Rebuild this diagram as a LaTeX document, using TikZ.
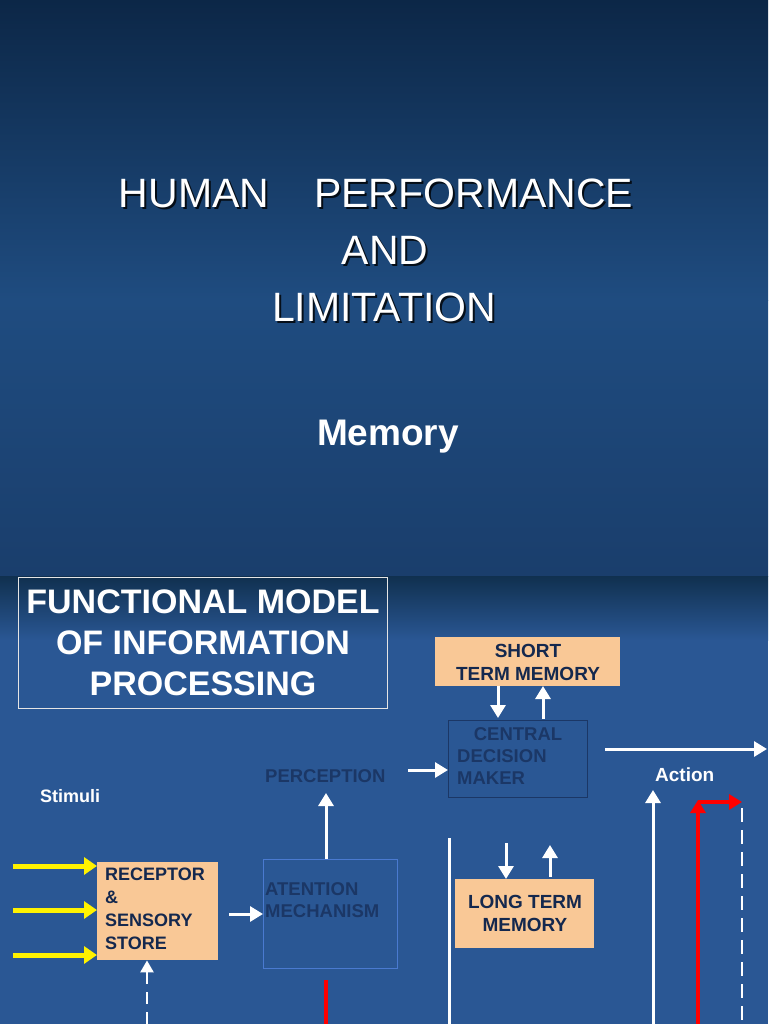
\documentclass[tikz,border=0pt]{standalone}
\usepackage{fontspec}
\setmainfont{Liberation Sans}
\usetikzlibrary{arrows.meta}
\definecolor{peach}{HTML}{F9C896}
\definecolor{navytxt}{HTML}{14284E}
\definecolor{dimtxt}{HTML}{1B3766}
\definecolor{attb}{HTML}{4A7AD0}
\definecolor{bgtop}{HTML}{0C2747}
\definecolor{bgmid}{HTML}{1F4C80}
\definecolor{bgbot}{HTML}{1A3E6C}
\definecolor{bg2}{HTML}{2A5794}
\definecolor{bg2top}{HTML}{10304F}
\tikzset{
  peachbox/.style={fill=peach,inner sep=0pt,anchor=north west},
  txt/.style={font=\bfseries\fontsize{19}{23}\selectfont,text=navytxt,align=left,inner sep=0pt},
  dim/.style={font=\bfseries\fontsize{18.5}{22}\selectfont,text=dimtxt,align=left,inner sep=0pt},
  wtxt/.style={font=\bfseries\fontsize{19}{21}\selectfont,text=white,inner sep=0pt},
  warr/.style={draw=white,line width=3pt,-{Triangle[length=13pt,width=15pt]}},
  yarr/.style={draw=yellow,line width=5pt,-{Triangle[length=13pt,width=17pt]}},
  rarr/.style={draw=red,line width=3.5pt,-{Triangle[length=13pt,width=15pt]}},
  ttext/.style={font=\fontsize{41}{44}\selectfont,text=white},
  tshadow/.style={font=\fontsize{41}{44}\selectfont,text=black,opacity=0.8},
}
\begin{document}
\begin{tikzpicture}[x=1pt,y=-1pt]
\useasboundingbox (0,0) rectangle (768,1024);
\shade[top color=bgtop,bottom color=bgmid] (0,0) rectangle (768,300);
\shade[top color=bgmid,bottom color=bgbot] (0,300) rectangle (768,576);
\shade[top color=bg2top,bottom color=bg2] (0,576) rectangle (768,640);
\fill[bg2] (0,640) rectangle (768,1024);
% top slide
\node[tshadow] at (378,195) {HUMAN\hspace{1.1em}PERFORMANCE};
\node[ttext] (t1) at (376,193) {HUMAN\hspace{1.1em}PERFORMANCE};
\node[tshadow] at (387,252) {AND};
\node[ttext] (t2) at (385,250) {AND};
\node[tshadow] at (386,309) {LIMITATION};
\node[ttext] (t3) at (384,307) {LIMITATION};
\node[font=\bfseries\fontsize{37}{40}\selectfont,text=white] (mem) at (388,437) {Memory};
% bottom slide
\draw[white!80!gray,line width=0.8pt] (18,577) rectangle (387,708);
\node[font=\bfseries\fontsize{34}{41}\selectfont,text=white,align=center] (ttl) at (203,643) {FUNCTIONAL MODEL\\OF INFORMATION\\PROCESSING};
% STM
\node[peachbox,minimum width=185pt,minimum height=49pt] (stm) at (435,637) {};
\node[txt,align=center] at (528,662) {SHORT\\TERM MEMORY};
% CDM
\node[draw=dimtxt,line width=0.8pt,inner sep=0pt,minimum width=139pt,minimum height=77pt,anchor=north west] (cdm) at (448,720) {};
\node[dim,anchor=north west] at (457,727) {\hspace{0.9em}CENTRAL\\DECISION\\MAKER};
\coordinate (a1s) at (498,686); \coordinate (a1e) at (498,718);
\coordinate (a2s) at (543,719); \coordinate (a2e) at (543,686);
\draw[warr] (a1s) -- (a1e);
\draw[warr] (a2s) -- (a2e);
% perception
\node[dim,anchor=west] (perc) at (265,776) {PERCEPTION};
\coordinate (pa) at (408,770);
\draw[warr] (pa) -- (cdm.west|-pa);
\coordinate (acs) at (605,749); \coordinate (ace) at (767,749);
\draw[warr] (acs) -- (ace);
\node[wtxt,anchor=west] (act) at (655,775) {Action};
\node[font=\bfseries\fontsize{18}{20}\selectfont,text=white,anchor=west,inner sep=0pt] (stim) at (40,796) {Stimuli};
% receptor
\node[peachbox,minimum width=121pt,minimum height=98pt] (rec) at (97,862) {};
\node[txt,anchor=north west,font=\bfseries\fontsize{18}{23}\selectfont] at (105,868) {RECEPTOR\\\&\\SENSORY\\STORE};
\foreach \y/\n in {866/y1,910/y2,955/y3}{
  \coordinate (\n) at (13,\y);
  \draw[yarr] (\n) -- (rec.west|-\n);
}
% attention
\node[draw=attb,line width=0.8pt,inner sep=0pt,minimum width=134pt,minimum height=109pt,anchor=north west] (att) at (263,859) {};
\node[dim,anchor=north west] at (265,882) {ATENTION\\MECHANISM};
\coordinate (ra) at (229,914);
\draw[warr] (ra) -- (att.west|-ra);
\coordinate (pu) at (326,859);
\draw[warr] (pu) -- (326,793);
\coordinate (rd) at (326,980); \coordinate (rdb) at (326,1024);
\draw[red,line width=3.5pt] (rd) -- (rdb);
\coordinate (ds) at (147,1024);
\draw[white,line width=2.5pt,dash pattern=on 12pt off 8pt,-{Triangle[length=12pt,width=13pt]}] (ds) -- (rec.south-|ds);
\coordinate (vl) at (449,838); \coordinate (vlb) at (449,1024);
\draw[white,line width=3pt] (vl) -- (vlb);
% LTM
\node[peachbox,minimum width=139pt,minimum height=69pt] (ltm) at (455,879) {};
\node[txt,align=center] at (525,913) {LONG TERM\\MEMORY};
\coordinate (l1) at (506,843); \coordinate (l2) at (550,877);
\draw[warr] (l1) -- (ltm.north-|l1);
\draw[warr] (l2) -- (550,845);
\coordinate (au) at (653,1024);
\draw[warr] (au) -- (653,790);
\coordinate (rv) at (698,1024); \coordinate (rc) at (698,802); \coordinate (rh) at (742,802);
\draw[rarr] (rv) -- (698,800);
\draw[rarr] (rc) -- (rh);
\coordinate (dw) at (742,808); \coordinate (dwb) at (742,1024);
\draw[white,line width=2.5pt,dash pattern=on 14pt off 8pt] (dw) -- (dwb);
\end{tikzpicture}
\end{document}
